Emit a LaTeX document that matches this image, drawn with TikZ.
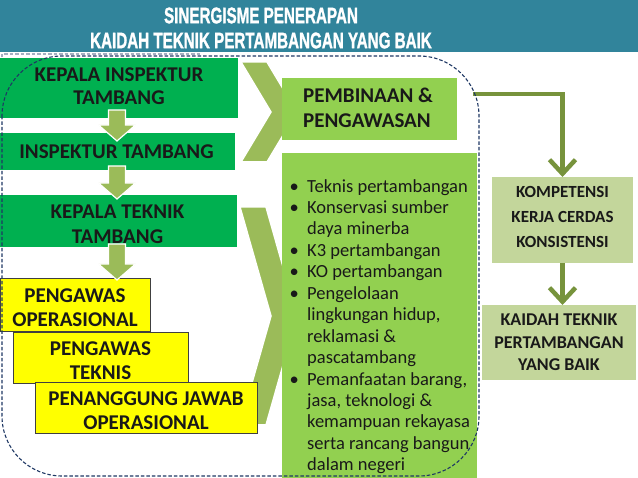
\documentclass[tikz,border=0pt]{standalone}
\usepackage{fontspec}
\usepackage{graphicx}
\setmainfont{Carlito}
\newfontfamily\titlefont{Liberation Sans}[BoldFeatures={FakeBold=1.6}]
\usetikzlibrary{calc,arrows.meta}
\definecolor{titlebarc}{HTML}{31849B}
\definecolor{gboxc}{HTML}{00B050}
\definecolor{yboxc}{HTML}{FFFF00}
\definecolor{chevc}{HTML}{9BBB59}
\definecolor{lgreenc}{HTML}{92D050}
\definecolor{olivec}{HTML}{77933C}
\definecolor{palec}{HTML}{C3D69B}
\definecolor{dashc}{HTML}{1F3864}
\newcommand\blockarrow[2]{%
  \path[blockarrow] let \p1=(#1), \p2=(#2) in
    (\x1-8.5pt,\y1) -- (\x1+8.5pt,\y1) -- (\x1+8.5pt,\y2+16pt) --
    (\x1+18.5pt,\y2+16pt) -- (\x1,\y2) -- (\x1-18.5pt,\y2+16pt) --
    (\x1-8.5pt,\y2+16pt) -- cycle;}
\newcommand\bul{\makebox[19pt][l]{\hspace{1.5pt}•}}
\newcommand\cont{\hspace*{19pt}}
\tikzset{
  box/.style={inner sep=0pt, outer sep=0pt, anchor=north west},
  gbox/.style={box, fill=gboxc},
  ybox/.style={box, fill=yboxc, draw=black!75, line width=0.8pt},
  lbox/.style={box, fill=lgreenc},
  pbox/.style={box, fill=palec},
  btext/.style={font=\bfseries\fontsize{21}{23}\selectfont, align=center, inner sep=0pt, text=black!90},
  ytext/.style={btext, font=\bfseries\fontsize{21}{24.5}\selectfont},
  blockarrow/.style={fill=chevc, draw=white, line width=1.2pt, line join=miter},
  chevron/.style={fill=chevc, draw=white, line width=1.5pt, line join=miter},
  thickarrow/.style={draw=olivec, line width=4.5pt, line join=miter,
    -{Straight Barb[length=14pt, width=26pt]}},
  dashline/.style={draw=dashc, line width=1.1pt, dash pattern=on 3.5pt off 2pt}
}
\begin{document}
\begin{tikzpicture}[x=1pt,y=-1pt]
\useasboundingbox (0,0) rectangle (638,478);
\fill[white] (0,0) rectangle (638,478);
% title bar
\fill[titlebarc] (0,0) rectangle (638,52);
\node[font=\titlefont\bfseries\fontsize{22.5}{25}\selectfont, text=white, align=center, inner sep=0pt] (title) at (261,28)
  {\scalebox{0.675}[1]{SINERGISME PENERAPAN}\\\scalebox{0.675}[1]{KAIDAH TEKNIK PERTAMBANGAN YANG BAIK}};
% faint straight corner of the outline
\draw[dashline, draw=dashc!40] (2,118) -- (2,54) -- (200,54);
% green boxes
\node[gbox, minimum width=238pt, minimum height=60pt] (kit) at (0,58) {};
\node[btext] (kitt) at ([yshift=1.5pt]kit.center) {KEPALA INSPEKTUR\\TAMBANG};
\node[gbox, minimum width=235pt, minimum height=37pt] (it) at (0,133) {};
\node[btext] (itt) at ([xshift=-1pt]it.center) {INSPEKTUR TAMBANG};
\node[gbox, minimum width=237pt, minimum height=52pt] (ktt) at (0,195) {};
\node[btext, font=\bfseries\fontsize{21}{25}\selectfont] (kttt) at ([xshift=-1pt,yshift=-3.5pt]ktt.center) {KEPALA TEKNIK\\TAMBANG};
% down arrows
\coordinate (a1s) at ($(kit.south)+(-2,-8)$);
\coordinate (a1e) at ($(it.north)+(-0.5,8)$);
\coordinate (a2s) at ($(it.south)+(-0.5,-4)$);
\coordinate (a2e) at ($(ktt.north)+(-1.5,4)$);
\coordinate (a3s) at ($(ktt.south)+(-1.5,-3)$);
\blockarrow{a1s}{a1e}
\blockarrow{a2s}{a2e}
% chevrons
\path[chevron] (241,62) -- (267,62) -- (297,112) -- (267,162) -- (241,162) -- (271,112) -- cycle;
\path[chevron] (240,207) -- (266,207) -- (297,316) -- (266,425) -- (240,425) -- (271,316) -- cycle;
% yellow boxes
\node[ybox, minimum width=150pt, minimum height=53pt] (y1) at (0,278) {};
\coordinate (a3e) at ($(y1.north west)+(117,2)$);
\blockarrow{a3s}{a3e}
\node[ytext] (y1t) at ([yshift=-3pt]y1.center) {PENGAWAS\\OPERASIONAL};
\node[ybox, minimum width=175pt, minimum height=51pt] (y2) at (13,332) {};
\node[ytext] (y2t) at ([yshift=-3pt]y2.center) {PENGAWAS\\TEKNIS};
\node[ybox, minimum width=222pt, minimum height=51pt] (y3) at (35,382) {};
\node[btext, font=\bfseries\fontsize{21}{24}\selectfont] (y3t) at ([yshift=-3.5pt]y3.center) {PENANGGUNG JAWAB\\OPERASIONAL};
% pembinaan
\node[lbox, minimum width=175pt, minimum height=62pt] (pemb) at (282,78) {};
\node[btext, align=left, anchor=west, font=\bfseries\fontsize{21}{25}\selectfont] (pembt) at ($(pemb.west)+(21,-1.5)$) {PEMBINAAN \&\\PENGAWASAN};
% bullets
\node[lbox, minimum width=195pt, minimum height=325pt] (bul) at (282,153) {};
\node[anchor=north west, inner sep=0pt, align=left, font=\fontsize{18.5}{21.45}\selectfont, text=black!90] (bult) at ($(bul.north west)+(6,26)$) {%
\bul Teknis pertambangan\\
\bul Konservasi sumber\\
\cont daya minerba\\
\bul K3 pertambangan\\
\bul KO pertambangan\\
\bul Pengelolaan\\
\cont lingkungan hidup,\\
\cont reklamasi \&\\
\cont pascatambang\\
\bul Pemanfaatan barang,\\
\cont jasa, teknologi \&\\
\cont kemampuan rekayasa\\
\cont serta rancang bangun\\
\cont dalam negeri};
% right side
\node[pbox, minimum width=141pt, minimum height=86pt] (komp) at (492,177) {};
\node[btext, font=\bfseries\fontsize{17}{25}\selectfont] (kompt) at ([yshift=3pt]komp.center) {KOMPETENSI\\KERJA CERDAS\\KONSISTENSI};
\node[pbox, minimum width=154pt, minimum height=75pt] (ktp) at (482,305) {};
\node[btext, font=\bfseries\fontsize{18}{22.5}\selectfont] (ktpt) at (ktp.center) {KAIDAH TEKNIK\\PERTAMBANGAN\\YANG BAIK};
\coordinate (c1) at ($(pemb.north east)+(16,16)$);
\draw[thickarrow] (c1) -- (c1 -| komp.north) -- (komp.north);
\draw[thickarrow] (komp.south) -- (komp.south |- ktp.north);
% dashed outline
\draw[dashline, rounded corners=60pt] (2,56) rectangle (479,476);
\end{tikzpicture}
\end{document}
